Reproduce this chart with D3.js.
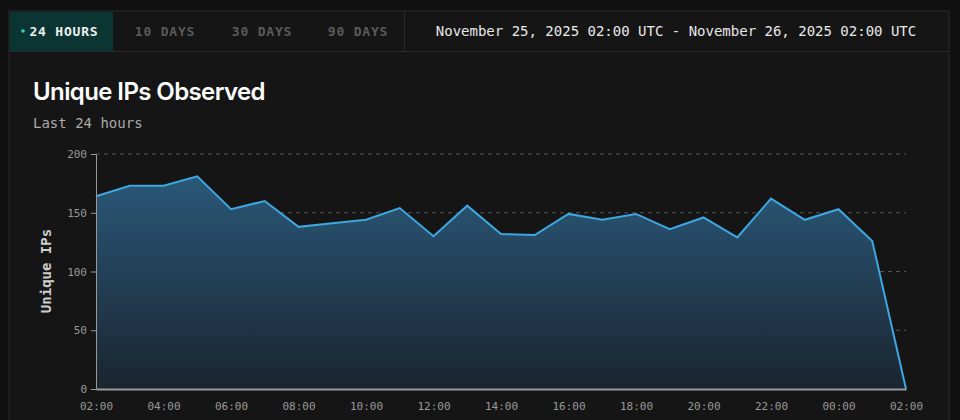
<!DOCTYPE html>
<html><head><meta charset="utf-8">
<script src="https://cdn.jsdelivr.net/npm/d3@7"></script>
<style>body{margin:0;background:#111;}svg{display:block}</style>
</head><body><svg id="c" width="960" height="420"></svg>
<script>
const hours=["02:00","03:00","04:00","05:00","06:00","07:00","08:00","09:00","10:00","11:00","12:00","13:00","14:00","15:00","16:00","17:00","18:00","19:00","20:00","21:00","22:00","23:00","00:00","01:00","02:00"];
const values=[164,173,173,181,153,160,138,141,144,154,130,156,132,131,149,144,149,136,146,129,162,144,153,126,0];
const yTicks=[0,50,100,150,200];
const tabs=["24 HOURS","10 DAYS","30 DAYS","90 DAYS"];
const svg=d3.select("#c");
const mono="'DejaVu Sans Mono', monospace";
svg.append("rect").attr("x",9).attr("y",11).attr("width",940).attr("height",420).attr("fill","#151515").attr("stroke","#2a2a2a");
svg.append("line").attr("x1",9).attr("x2",949).attr("y1",51.5).attr("y2",51.5).attr("stroke","#2a2a2a");
svg.append("line").attr("x1",404.5).attr("x2",404.5).attr("y1",11).attr("y2",51).attr("stroke","#2a2a2a");
svg.append("rect").attr("x",10).attr("y",12).attr("width",103).attr("height",39).attr("fill","#0b3533");
svg.append("circle").attr("cx",23).attr("cy",31).attr("r",1.8).attr("fill","#2dd4bf");
const tabX=[64,165,262,358];
tabs.forEach((t,i)=>svg.append("text").attr("x",tabX[i]).attr("y",35.5).attr("text-anchor","middle").attr("font-family",mono).attr("font-weight","bold").attr("font-size",13).attr("letter-spacing",0.8).attr("fill",i==0?"#f0f0f0":"#5a5a5a").text(t));
svg.append("text").attr("x",676).attr("y",36).attr("text-anchor","middle").attr("font-family",mono).attr("font-size",14).attr("fill","#e8e8e8").text("November 25, 2025 02:00 UTC - November 26, 2025 02:00 UTC");
svg.append("text").attr("x",33).attr("y",100).attr("font-family","Inter, sans-serif").attr("font-weight","600").attr("font-size",24).attr("letter-spacing",-0.6).attr("fill","#fff").text("Unique IPs Observed");
svg.append("text").attr("x",33).attr("y",128).attr("font-family",mono).attr("font-size",14).attr("fill","#aaa").text("Last 24 hours");
const x=d3.scaleLinear().domain([0,hours.length-1]).range([96,906]);
const y=d3.scaleLinear().domain([0,200]).range([389,154]);
const defs=svg.append("defs");
const g=defs.append("linearGradient").attr("id","gr").attr("x1",0).attr("x2",0).attr("y1",0).attr("y2",1);
g.append("stop").attr("offset","0%").attr("stop-color","#2a5878");
g.append("stop").attr("offset","100%").attr("stop-color","#1a2530");
yTicks.forEach(v=>{ if(v>0) svg.append("line").attr("x1",96).attr("x2",906).attr("y1",y(v)).attr("y2",y(v)).attr("stroke","#555").attr("stroke-dasharray","4,4");});
svg.append("path").datum(values).attr("fill","url(#gr)").attr("d",d3.area().x((d,i)=>x(i)).y0(y(0)).y1(d=>y(d)));
svg.append("path").datum(values).attr("fill","none").attr("stroke","#3ea6e0").attr("stroke-width",2).attr("d",d3.line().x((d,i)=>x(i)).y(d=>y(d)));
const ya=svg.append("g").attr("transform","translate(96,0)").call(d3.axisLeft(y).tickValues(yTicks).tickSize(5).tickPadding(4));
const xa=svg.append("g").attr("transform","translate(0,389)").call(d3.axisBottom(x).tickValues(d3.range(0,25,2)).tickFormat(i=>hours[i]).tickSize(0).tickPadding(13));
[ya,xa].forEach(a=>{a.selectAll("path,line").attr("stroke","#999");a.selectAll("text").attr("fill","#999").attr("font-family",mono).attr("font-size",11);});
xa.select("path").attr("stroke-width",2);
svg.append("text").attr("transform","translate(51,271) rotate(-90)").attr("text-anchor","middle").attr("font-family",mono).attr("font-weight","bold").attr("font-size",14).attr("fill","#ccc").text("Unique IPs");
</script></body></html>
